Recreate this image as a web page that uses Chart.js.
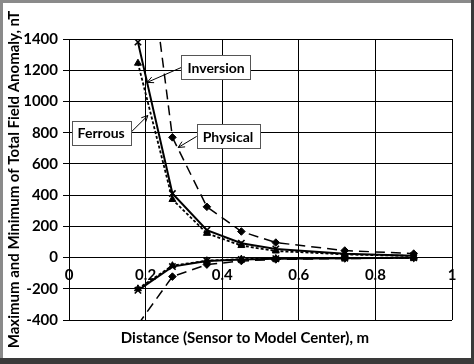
<!DOCTYPE html>
<html>
<head>
<meta charset="utf-8">
<script src="https://cdn.jsdelivr.net/npm/chart.js@4.4.0/dist/chart.umd.min.js"></script>
<style>
  html, body { margin: 0; padding: 0; background: #fff; }
  canvas { display: block; }
</style>
</head>
<body>
<canvas id="anomalyChart" width="474" height="364"></canvas>
<script>
// Distance (sensor to model center), m
const distances = [0.18, 0.27, 0.36, 0.45, 0.54, 0.72, 0.9];

// Maximum / minimum of total field anomaly, nT
const inversionMax = [1380, 410, 175, 92, 55, 25, 12];
const inversionMin = [-210, -58, -22, -12, -7, -4, -2];
const ferrousMax = [1245, 372, 155, 77, 42, 20, 10];
const ferrousMin = [-200, -52, -20, -10, -6, -3, -2];
const physicalMax = [2500, 770, 325, 167, 96, 45, 25];
const physicalMin = [-430, -122, -45, -22, -12, -6, -3];

const seriesNames = ['Inversion', 'Ferrous', 'Physical'];

const FONT = 'Lato, "Open Sans", sans-serif';

function points(values) {
    return distances.map((x, i) => ({ x: x, y: values[i] }));
}

// Line styles per series
const styles = {
    Inversion: { borderDash: [], borderWidth: 2, pointStyle: 'crossRot', pointRadius: 4.5, pointBorderWidth: 1.6 },
    Ferrous: { borderDash: [3, 2], borderWidth: 1.8, pointStyle: 'triangle', pointRadius: 4, pointBorderWidth: 1 },
    Physical: { borderDash: [10, 6], borderWidth: 1.5, pointStyle: 'rectRot', pointRadius: 3.8, pointBorderWidth: 1 }
};

function dataset(name, values) {
    return Object.assign({
        label: name,
        data: points(values),
        showLine: true,
        borderColor: '#000',
        backgroundColor: '#000',
        pointBackgroundColor: '#000',
        pointBorderColor: '#000',
        tension: 0
    }, styles[name]);
}

// Callouts: box centre and arrow tip in data units, arrow leaves from box side
const callouts = [
    { text: 'Inversion', bx: 0.384, by: 1218, side: 'left', tx: 0.204, ty: 1122 },
    { text: 'Ferrous', bx: 0.084, by: 801, side: 'right', tx: 0.206, ty: 910 },
    { text: 'Physical', bx: 0.415, by: 776, side: 'left', tx: 0.285, ty: 705 }
];

const decorations = {
    id: 'decorations',
    afterDraw(chart) {
        const ctx = chart.ctx;
        const xs = chart.scales.x, ys = chart.scales.y;
        ctx.save();

        // callout boxes and arrows
        ctx.font = 'bold 14px ' + FONT;
        ctx.textAlign = 'center';
        ctx.textBaseline = 'middle';
        callouts.forEach(c => {
            const cx = xs.getPixelForValue(c.bx), cy = ys.getPixelForValue(c.by);
            const w = ctx.measureText(c.text).width + 12, h = 24;
            const sx = c.side === 'left' ? cx - w / 2 : cx + w / 2;
            const tx = xs.getPixelForValue(c.tx), ty = ys.getPixelForValue(c.ty);

            ctx.strokeStyle = '#000';
            ctx.lineWidth = 1;
            ctx.beginPath();
            ctx.moveTo(sx, cy);
            ctx.lineTo(tx, ty);
            ctx.stroke();
            const ang = Math.atan2(ty - cy, tx - sx);
            ctx.beginPath();
            ctx.moveTo(tx - 7 * Math.cos(ang - 0.45), ty - 7 * Math.sin(ang - 0.45));
            ctx.lineTo(tx, ty);
            ctx.lineTo(tx - 7 * Math.cos(ang + 0.45), ty - 7 * Math.sin(ang + 0.45));
            ctx.stroke();

            ctx.fillStyle = '#fff';
            ctx.fillRect(Math.round(cx - w / 2) + 0.5, Math.round(cy - h / 2) + 0.5, Math.round(w), h);
            ctx.strokeStyle = '#555';
            ctx.strokeRect(Math.round(cx - w / 2) + 0.5, Math.round(cy - h / 2) + 0.5, Math.round(w), h);
            ctx.fillStyle = '#000';
            ctx.fillText(c.text, cx, cy + 1);
        });

        // x axis caption
        ctx.font = 'bold 15px ' + FONT;
        ctx.fillText('Distance (Sensor to Model Center), m', 245, 338);

        // frame
        ctx.fillStyle = '#8a8a8a';
        ctx.fillRect(0, 0, 474, 3);
        ctx.fillRect(0, 0, 3, 364);
        ctx.fillStyle = '#3a3a3a';
        ctx.fillRect(471, 0, 3, 364);
        ctx.fillRect(0, 358, 474, 6);
        ctx.restore();
    }
};

const tickFont = { family: FONT, size: 15, weight: 'bold' };

new Chart(document.getElementById('anomalyChart'), {
    type: 'scatter',
    data: {
        datasets: [
            dataset('Physical', physicalMax),
            dataset('Physical', physicalMin),
            dataset('Ferrous', ferrousMax),
            dataset('Ferrous', ferrousMin),
            dataset('Inversion', inversionMax),
            dataset('Inversion', inversionMin)
        ]
    },
    options: {
        responsive: false,
        animation: false,
        devicePixelRatio: 1,
        layout: { padding: { left: 0, top: 39, right: 22, bottom: 44 } },
        plugins: {
            legend: { display: false },
            tooltip: { enabled: false }
        },
        scales: {
            x: {
                type: 'linear',
                min: 0,
                max: 1,
                position: { y: 0 },
                ticks: {
                    stepSize: 0.2, padding: 9, color: '#000', font: tickFont,
                    callback: v => String(Math.round(v * 10) / 10)
                },
                grid: { color: '#000', lineWidth: 1, drawTicks: false },
                border: { color: '#000', width: 1 }
            },
            y: {
                min: -400,
                max: 1400,
                ticks: {
                    stepSize: 200, padding: 5, color: '#000', font: tickFont,
                    callback: v => String(v)
                },
                grid: { color: '#000', lineWidth: 1, tickLength: 6 },
                border: { color: '#000', width: 1 },
                title: {
                    display: true,
                    text: 'Maximum and Minimum of Total Field Anomaly, nT',
                    color: '#000',
                    font: { family: FONT, size: 15, weight: 'bold' },
                    padding: { top: 5 }
                },
                afterFit(scale) { scale.width = 69; }
            }
        }
    },
    plugins: [decorations]
});
</script>
</body>
</html>
